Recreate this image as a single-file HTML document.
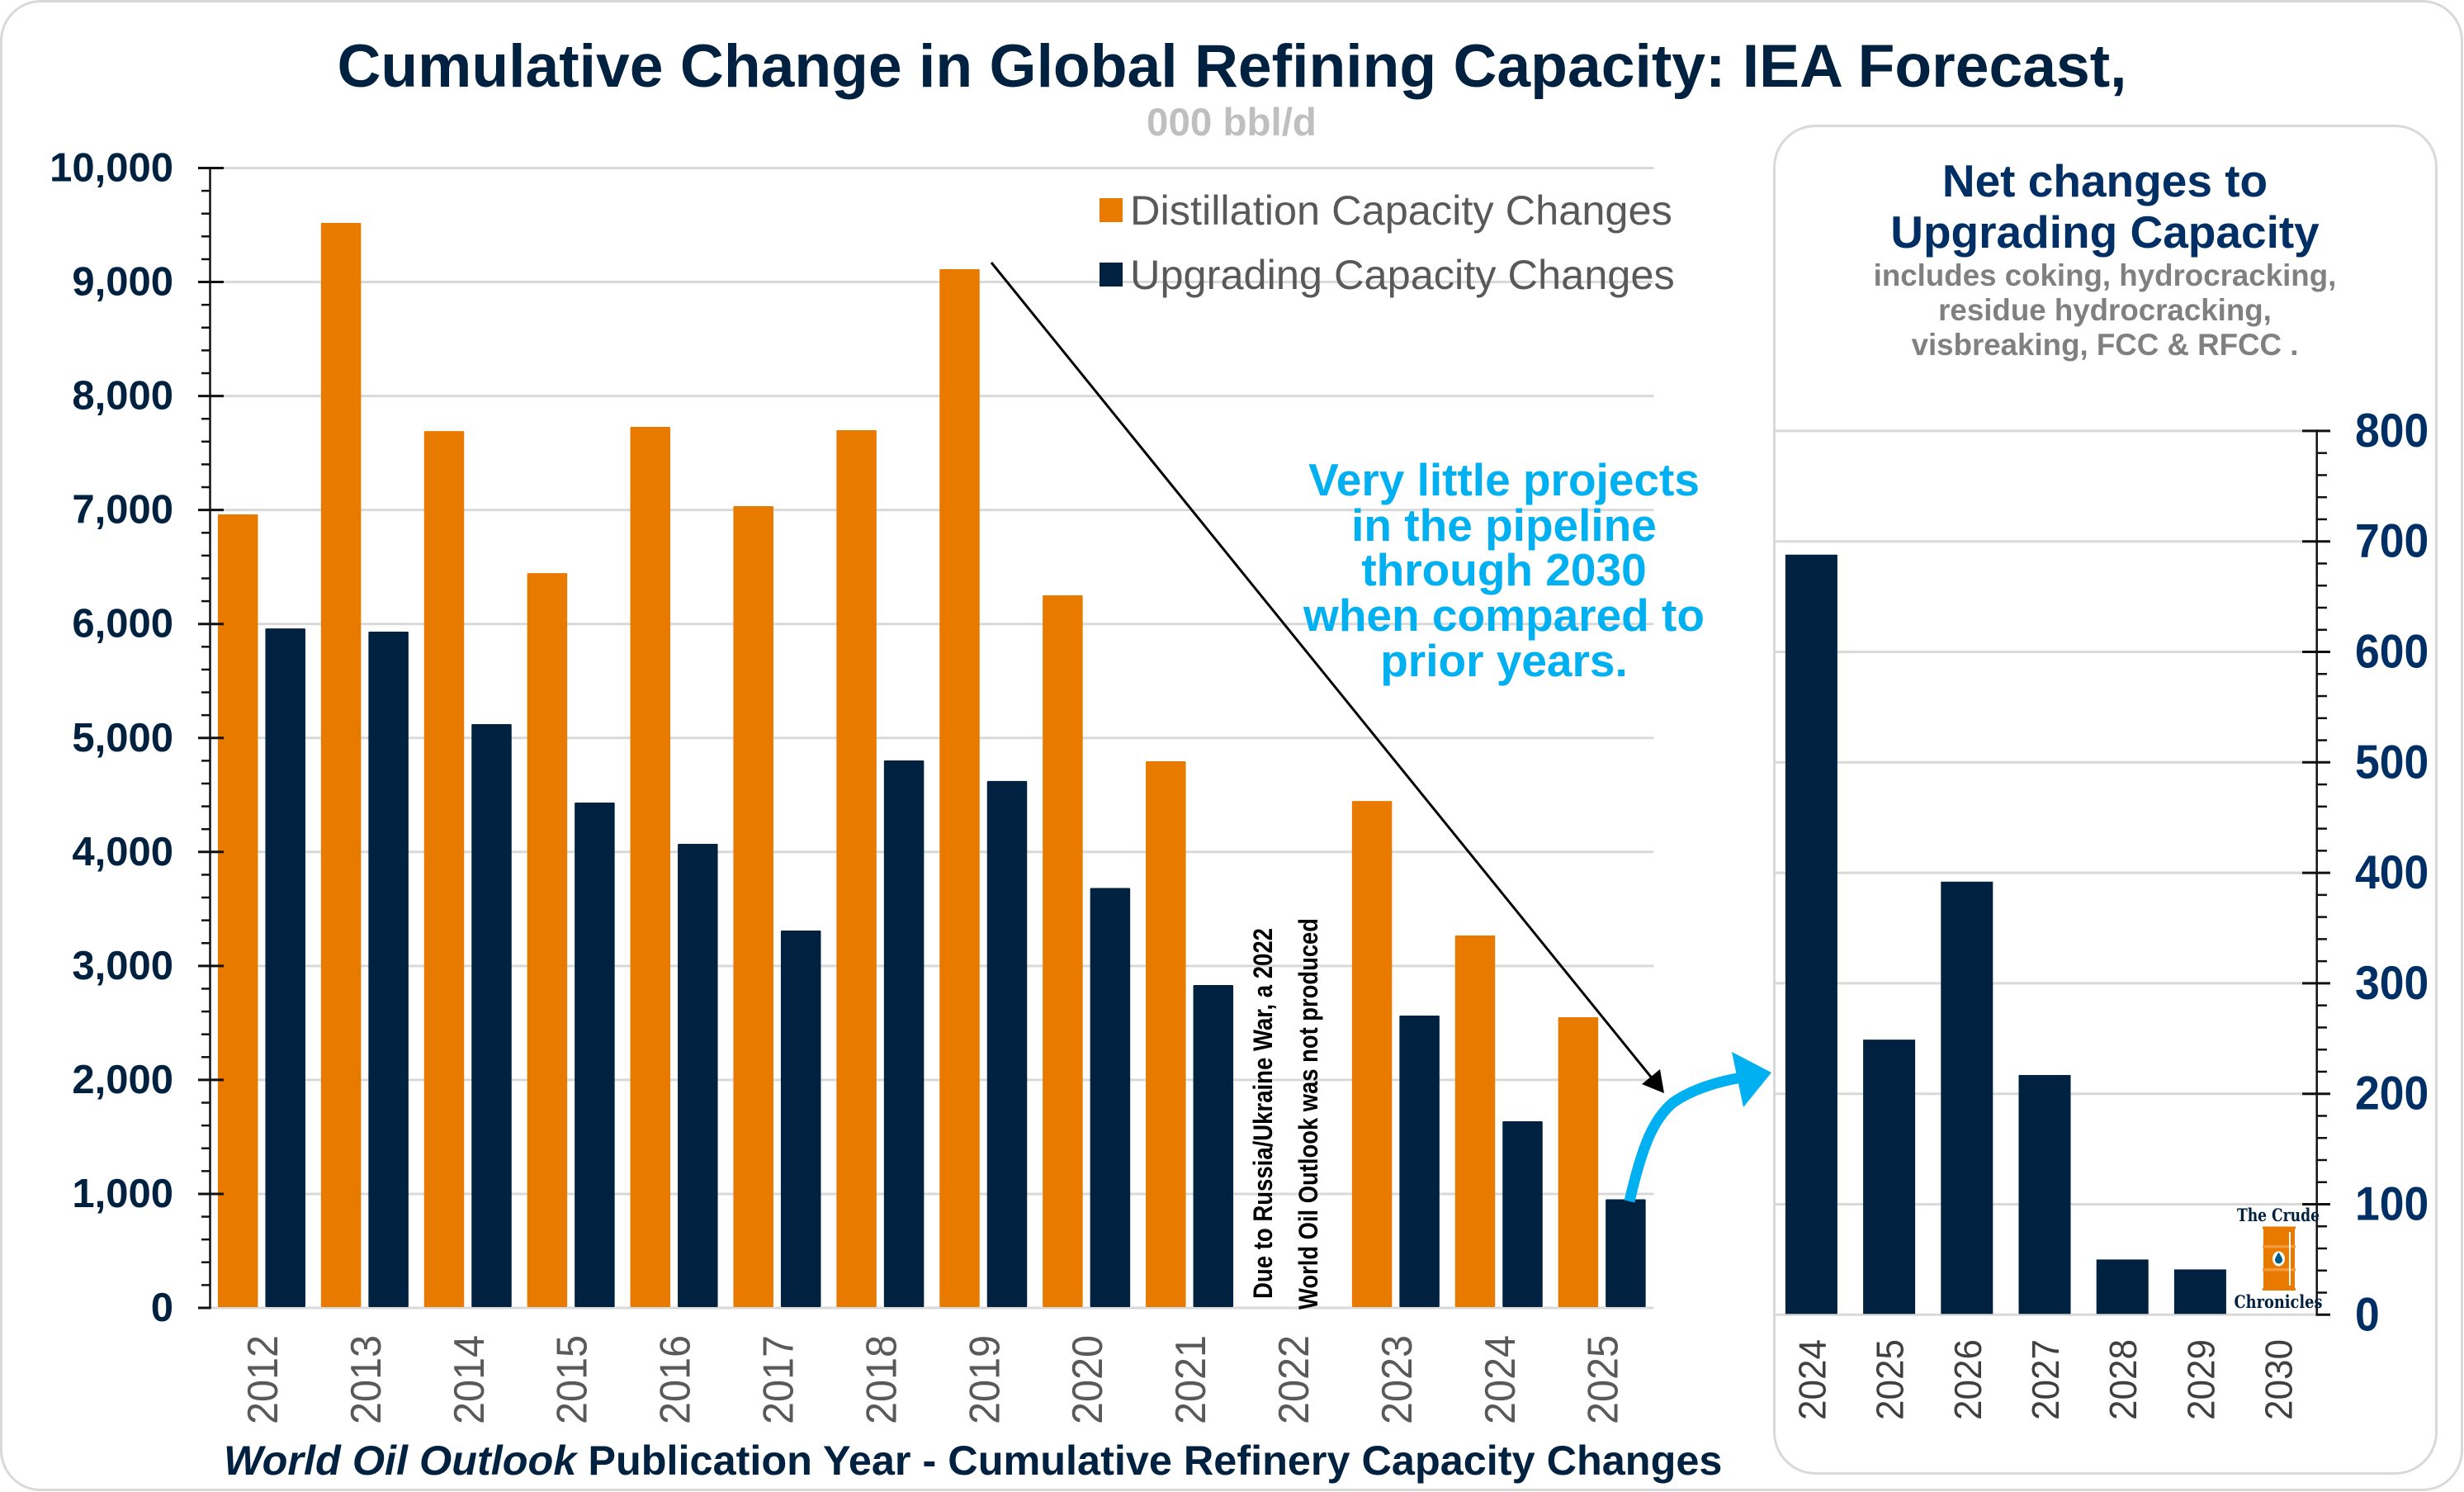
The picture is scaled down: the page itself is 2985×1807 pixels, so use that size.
<!DOCTYPE html>
<html lang="en">
<head>
<meta charset="utf-8">
<title>Cumulative Change in Global Refining Capacity</title>
<style>
html,body{margin:0;padding:0;background:#fff;width:2985px;height:1807px;overflow:hidden}
svg{display:block;font-family:"Liberation Sans",Arial,sans-serif}
</style>
</head>
<body>
<svg id="chart" xmlns="http://www.w3.org/2000/svg" width="2985" height="1807" viewBox="0 0 2985 1807">
  <rect x="1.5" y="1.5" width="2981" height="1803" rx="48" fill="#fff" stroke="#d9d9d9" stroke-width="3"/>

  <text x="1492.5" y="105" text-anchor="middle" font-size="73.3" font-weight="700" fill="#00213f">Cumulative Change in Global Refining Capacity: IEA Forecast,</text>
  <text x="1492" y="164" text-anchor="middle" font-size="47.5" font-weight="700" fill="#bfbfbf">000 bbl/d</text>

  <g id="left-grid"></g>
  <g id="left-bars"></g>
  <g id="left-axis"></g>
  <g id="left-xlabels"></g>

  <text transform="translate(1541,1573) rotate(-90)" font-size="32" font-weight="700" fill="#000" textLength="449" lengthAdjust="spacingAndGlyphs">Due to Russia/Ukraine War, a 2022</text>
  <text transform="translate(1596,1586) rotate(-90)" font-size="32" font-weight="700" fill="#000" textLength="474" lengthAdjust="spacingAndGlyphs">World Oil Outlook was not produced</text>

  <text x="271" y="1786" font-size="50.4" font-weight="700" fill="#00213f"><tspan font-style="italic">World Oil Outlook</tspan> Publication Year - Cumulative Refinery Capacity Changes</text>

  <g>
    <g>
      <rect x="1332" y="240" width="28" height="29" fill="#e87a00"/>
      <text x="1369" y="272" font-size="50.5" fill="#595959">Distillation Capacity Changes</text>
    </g>
    <g>
      <rect x="1332" y="318" width="28" height="29" fill="#00213f"/>
      <text x="1369" y="350" font-size="50.5" fill="#595959">Upgrading Capacity Changes</text>
    </g>
  </g>

  <g>
    <line x1="1201" y1="318" x2="2003" y2="1308" stroke="#000" stroke-width="3"/>
    <polygon points="2016,1324 1989,1313 2011,1295" fill="#000"/>
  </g>

  <g font-size="55" font-weight="700" fill="#00b0f0" text-anchor="middle">
    <text x="1822" y="600">Very little projects</text>
    <text x="1822" y="655">in the pipeline</text>
    <text x="1822" y="709">through 2030</text>
    <text x="1822" y="764">when compared to</text>
    <text x="1822" y="819">prior years.</text>
  </g>

  <rect x="2149.5" y="152.5" width="802" height="1632" rx="50" fill="#fff" stroke="#d9d9d9" stroke-width="3"/>

  <g>
    <path d="M1974 1455 C1990 1385 2004 1355 2026 1336 C2048 1320 2080 1310 2110 1305" fill="none" stroke="#00b0f0" stroke-width="13"/>
    <polygon points="2146,1299 2098,1274 2112,1341" fill="#00b0f0"/>
  </g>

  <text x="2550" y="238" text-anchor="middle" font-size="55" font-weight="700" fill="#002f66">Net changes to</text>
  <text x="2550" y="300" text-anchor="middle" font-size="55" font-weight="700" fill="#002f66">Upgrading Capacity</text>
  <g font-size="36.7" font-weight="700" fill="#808080" text-anchor="middle">
    <text x="2550" y="346">includes coking, hydrocracking,</text>
    <text x="2550" y="388">residue hydrocracking,</text>
    <text x="2550" y="430">visbreaking, FCC &amp; RFCC .</text>
  </g>

  <g id="right-grid"></g>
  <g id="right-bars"></g>
  <g id="right-axis"></g>
  <g id="right-xlabels"></g>

  <g>
    <text x="2760" y="1479" text-anchor="middle" font-family="'DejaVu Serif',serif" font-size="21" font-weight="700" fill="#00213f" textLength="100" lengthAdjust="spacingAndGlyphs">The Crude</text>
    <rect x="2742" y="1488" width="38" height="72" fill="#e87a00"/>
    <rect x="2741" y="1485.500" width="40" height="3" fill="#e87a00"/>
    <rect x="2741" y="1508" width="40" height="3.500" fill="#f29a3c"/>
    <rect x="2741" y="1536" width="40" height="3.500" fill="#f29a3c"/>
    <rect x="2741" y="1560" width="40" height="3" fill="#e87a00"/>
    <rect x="2773" y="1492" width="2" height="65" fill="#fff"/>
    <ellipse cx="2760.500" cy="1524.500" rx="7.500" ry="9" fill="#fff"/>
    <path d="M2760.500 1516.500 C2758 1521 2756 1523.500 2756 1526 A4.500 4.500 0 0 0 2765 1526 C2765 1523.500 2763 1521 2760.500 1516.500Z" fill="#005b8a"/>
    <text x="2760" y="1584" text-anchor="middle" font-family="'DejaVu Serif',serif" font-size="21" font-weight="700" fill="#00213f" textLength="107" lengthAdjust="spacingAndGlyphs">Chronicles</text>
  </g>

  <script>
    // Left chart data
    const leftCategories = ['2012','2013','2014','2015','2016','2017','2018','2019','2020','2021','2022','2023','2024','2025'];
    const distillationValues = [6961,9518,7692,6446,7729,7034,7700,9113,6251,4795,null,4447,3267,2550];
    const upgradingValues = [5961,5933,5121,4433,4071,3310,4803,4622,3683,2832,null,2564,1637,953];
    const leftTickValues = [0,1000,2000,3000,4000,5000,6000,7000,8000,9000,10000];
    const leftTickLabels = ['0','1,000','2,000','3,000','4,000','5,000','6,000','7,000','8,000','9,000','10,000'];

    // Right chart data
    const rightCategories = ['2024','2025','2026','2027','2028','2029','2030'];
    const netUpgradingValues = [688,249,392,217,50,41,0];
    const rightTickValues = [0,100,200,300,400,500,600,700,800];
    const rightTickLabels = ['0','100','200','300','400','500','600','700','800'];

    const NS = 'http://www.w3.org/2000/svg';
    const ORANGE = '#e87a00', NAVY = '#00213f', GRID = '#d9d9d9', AXIS = '#111';

    function make(parent, tag, attrs, text) {
      const el = document.createElementNS(NS, tag);
      for (const k in attrs) el.setAttribute(k, attrs[k]);
      if (text !== undefined) el.textContent = text;
      parent.appendChild(el);
      return el;
    }

    // Left axis functions
    const L = {x0: 254.5, cat: 124.9, y0: 1584, perUnit: 0.13805, barW: 48.5, gap: 9, right: 2003.5};
    function leftY(v) { return L.y0 - v * L.perUnit; }
    function leftCenter(i) { return L.x0 + L.cat * (i + 0.5); }

    // Right axis functions
    const R = {x1: 2806.7, cat: 94.2, y0: 1592.3, perUnit: 1.338, barW: 63, left: 2150};
    function rightY(v) { return R.y0 - v * R.perUnit; }
    function rightCenter(i) { return R.x1 - R.cat * (rightCategories.length - i - 0.5); }

    const leftGrid = document.getElementById('left-grid');
    const leftBars = document.getElementById('left-bars');
    const leftAxis = document.getElementById('left-axis');
    const leftXLabels = document.getElementById('left-xlabels');
    const rightGrid = document.getElementById('right-grid');
    const rightBars = document.getElementById('right-bars');
    const rightAxis = document.getElementById('right-axis');
    const rightXLabels = document.getElementById('right-xlabels');

    // Left gridlines, ticks, tick labels
    leftTickValues.forEach(function (v, i) {
      const y = leftY(v);
      const g = make(leftGrid, 'line', {x1: L.x0, x2: L.right, y1: y, y2: y, stroke: GRID, 'stroke-width': 3});
      
      
      const t = make(leftAxis, 'line', {x1: 240, x2: v === 0 ? L.x0 : 271, y1: y, y2: y, stroke: AXIS, 'stroke-width': 3});
      
      
      const lab = make(leftAxis, 'text', {x: 210, y: y + 16, 'text-anchor': 'end', 'font-size': 49, 'font-weight': 700, fill: NAVY}, leftTickLabels[i]);
      
      
      if (i < leftTickValues.length - 1) {
        const step = (leftTickValues[i + 1] - v) / 5;
        for (let m = 1; m < 5; m++) {
          const my = leftY(v + step * m);
          const mt = make(leftAxis, 'line', {x1: 244, x2: L.x0, y1: my, y2: my, stroke: AXIS, 'stroke-width': 2.5});
          
          
        }
      }
    });
    const leftSpine = make(leftAxis, 'line', {x1: L.x0, x2: L.x0, y1: leftY(10000) - 1.5, y2: leftY(0) + 1.5, stroke: AXIS, 'stroke-width': 2.5});
    
    

    // Left bars and category labels
    leftCategories.forEach(function (c, i) {
      const cx = leftCenter(i);
      const dv = distillationValues[i], uv = upgradingValues[i];
      if (dv !== null) {
        const b = make(leftBars, 'rect', {x: cx - L.gap / 2 - L.barW, y: leftY(dv), width: L.barW, height: leftY(0) - leftY(dv) - 1, fill: ORANGE, rx: 1});
        
        
      }
      if (uv !== null) {
        const b2 = make(leftBars, 'rect', {x: cx + L.gap / 2, y: leftY(uv), width: L.barW, height: leftY(0) - leftY(uv) - 1, fill: NAVY, rx: 1});
        
        
      }
      const lab = make(leftXLabels, 'text', {transform: 'translate(' + (cx + 19) + ',1725) rotate(-90)', 'font-size': 52, fill: '#595959', textLength: 108, lengthAdjust: 'spacingAndGlyphs'}, c);
      
      
    });

    // Right gridlines, ticks, tick labels
    rightTickValues.forEach(function (v, i) {
      const y = rightY(v);
      const g = make(rightGrid, 'line', {x1: R.left, x2: R.x1, y1: y, y2: y, stroke: GRID, 'stroke-width': 3});
      
      
      const t = make(rightAxis, 'line', {x1: v === 0 ? R.x1 : 2789, x2: 2823, y1: y, y2: y, stroke: AXIS, 'stroke-width': 3});
      
      
      const lab = make(rightAxis, 'text', {transform: 'translate(2853,' + (y + 19) + ') scale(1,1.08)', 'font-size': 53.5, 'font-weight': 700, fill: '#002f66'}, rightTickLabels[i]);
      
      
      if (i < rightTickValues.length - 1) {
        const step = (rightTickValues[i + 1] - v) / 5;
        for (let m = 1; m < 5; m++) {
          const my = rightY(v + step * m);
          const mt = make(rightAxis, 'line', {x1: R.x1, x2: 2819, y1: my, y2: my, stroke: AXIS, 'stroke-width': 2.5});
          
          
        }
      }
    });
    const rightSpine = make(rightAxis, 'line', {x1: R.x1, x2: R.x1, y1: rightY(800) - 1.5, y2: rightY(0) + 1.5, stroke: AXIS, 'stroke-width': 2.5});
    
    

    // Right bars and category labels
    rightCategories.forEach(function (c, i) {
      const cx = rightCenter(i);
      const v = netUpgradingValues[i];
      if (v > 0) {
        const b = make(rightBars, 'rect', {x: cx - R.barW / 2, y: rightY(v), width: R.barW, height: rightY(0) - rightY(v) - 1, fill: NAVY});
        
        
      }
      const lab = make(rightXLabels, 'text', {transform: 'translate(' + (cx + 17) + ',1720) rotate(-90)', 'font-size': 46, fill: '#404040', textLength: 98, lengthAdjust: 'spacingAndGlyphs'}, c);
      
      
    });
  </script>
</svg>
</body>
</html>
